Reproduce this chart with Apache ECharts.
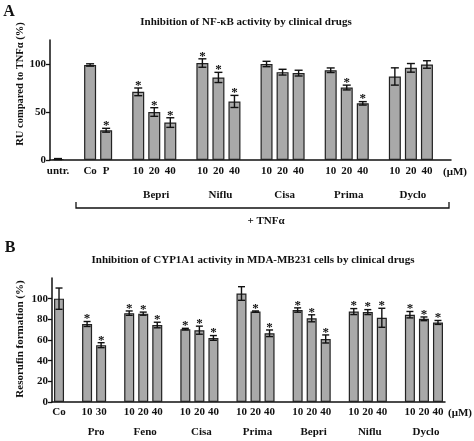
<!DOCTYPE html>
<html>
<head>
<meta charset="utf-8">
<script src="https://cdn.jsdelivr.net/npm/echarts@6/dist/echarts.min.js"></script>
<style>
html, body { margin: 0; padding: 0; background: #fff; }
#main { width: 474px; height: 441px; }
</style>
</head>
<body>
<div id="main"></div>
<script>
var FONT = '"Liberation Serif", "DejaVu Serif", serif';

// panel A - NF-kB activity (RU % of TNFa)
var groupsA = ['', '', 'Bepri', 'Niflu', 'Cisa', 'Prima', 'Dyclo'];
var dosesA = [['untr.'], ['Co', 'P'], ['10', '20', '40'], ['10', '20', '40'], ['10', '20', '40'], ['10', '20', '40'], ['10', '20', '40']];
var meansA = [[1], [99, 31], [71, 50, 39], [101, 86, 61], [100, 91.5, 90.5], [93.5, 75.5, 59], [87, 96, 99.5]];
var errsA = [[0.5], [1.2, 2], [4, 4.5, 5], [4.4, 5.3, 6.3], [2.8, 3, 3], [2.4, 2.5, 1.8], [9, 4.5, 3.9]];
var starsA = [[0], [0, 1], [1, 1, 1], [1, 1, 1], [0, 0, 0], [0, 1, 1], [0, 0, 0]];
var ticksA = [0, 50, 100];

// panel B - CYP1A1 activity (resorufin formation %)
var groupsB = ['', 'Pro', 'Feno', 'Cisa', 'Prima', 'Bepri', 'Niflu', 'Dyclo'];
var dosesB = [['Co'], ['10', '30'], ['10', '20', '40'], ['10', '20', '40'], ['10', '20', '40'], ['10', '20', '40'], ['10', '20', '40'], ['10', '20', '40']];
var meansB = [[100], [75.5, 55], [86, 85.5, 74.5], [70.5, 69.5, 62], [105, 87.5, 66.5], [89, 81, 61], [87.5, 87, 81.5], [84.5, 80.5, 77]];
var errsB = [[10.3], [2.4, 2.4], [2.1, 1.5, 2.7], [0.8, 3.9, 2.3], [6.6, 0.6, 3.2], [2.1, 3.4, 3.9], [2.9, 2.4, 9.2], [3.1, 1.8, 1.9]];
var starsB = [[0], [1, 1], [1, 1, 1], [1, 1, 1], [0, 1, 1], [1, 1, 1], [1, 1, 1], [1, 1, 1]];
var ticksB = [0, 20, 40, 60, 80, 100];

// one empty slot between groups
function build(doses, means, errs, stars, trailing) {
	var cats = [], bars = [], ebars = [], spans = [];
	for (var g = 0; g < doses.length; g++) {
		if (g > 0) { cats.push(''); bars.push(null); }
		var first = cats.length;
		for (var i = 0; i < doses[g].length; i++) {
			cats.push(doses[g][i]);
			bars.push(means[g][i]);
			ebars.push([cats.length - 1, means[g][i], errs[g][i], stars[g][i]]);
		}
		spans.push([first, cats.length - 1]);
	}
	if (trailing) { cats.push(''); bars.push(null); }
	return { cats: cats, bars: bars, ebars: ebars, spans: spans };
}

var A = build(dosesA, meansA, errsA, starsA, true);
var B = build(dosesB, meansB, errsB, starsB, false);

function errRenderer(cap) {
	return function (params, api) {
		var x = api.value(0), m = api.value(1), e = api.value(2), s = api.value(3);
		var top = api.coord([x, m + e]);
		var bot = api.coord([x, m - e]);
		var st = { stroke: '#111', lineWidth: 1.4 };
		var kids = [
			{ type: 'line', shape: { x1: top[0], y1: top[1], x2: bot[0], y2: bot[1] }, style: st },
			{ type: 'line', shape: { x1: top[0] - cap, y1: top[1], x2: top[0] + cap, y2: top[1] }, style: st },
			{ type: 'line', shape: { x1: bot[0] - cap, y1: bot[1], x2: bot[0] + cap, y2: bot[1] }, style: st }
		];
		if (s) {
			kids.push({
				type: 'text', x: top[0], y: top[1] + 4,
				style: { text: '*', font: 'bold 13px ' + FONT, align: 'center', verticalAlign: 'bottom', fill: '#111' }
			});
		}
		return { type: 'group', children: kids };
	};
}

var axisLine = { lineStyle: { color: '#111', width: 1.5 } };
var labelStyle = { color: '#111', fontFamily: FONT, fontWeight: 'bold', fontSize: 11 };

var option = {
	animation: false,
	title: [
		{ text: 'Inhibition of NF-\u03baB activity by clinical drugs', left: 241, top: 12, textAlign: 'center',
			textStyle: { fontFamily: FONT, fontWeight: 'bold', fontSize: 11, color: '#111' } },
		{ text: 'Inhibition of CYP1A1 activity in MDA-MB231 cells by clinical drugs', left: 248, top: 250, textAlign: 'center',
			textStyle: { fontFamily: FONT, fontWeight: 'bold', fontSize: 11, color: '#111' } }
	],
	grid: [
		{ left: 50, top: 40, width: 401, height: 120 },
		{ left: 52, top: 278, width: 393, height: 124 }
	],
	xAxis: [
		{ type: 'category', gridIndex: 0, data: A.cats, axisLine: axisLine,
			axisTick: { alignWithLabel: true, interval: 0, length: 3, lineStyle: { color: '#111' } },
			axisLabel: Object.assign({ interval: 0, margin: 6 }, labelStyle) },
		{ type: 'category', gridIndex: 1, data: B.cats, axisLine: axisLine,
			axisTick: { alignWithLabel: true, interval: 0, length: 3, lineStyle: { color: '#111' } },
			axisLabel: Object.assign({ interval: 0, margin: 5 }, labelStyle) }
	],
	yAxis: [
		{ type: 'value', gridIndex: 0, min: 0, max: 125, splitLine: { show: false },
			axisLine: Object.assign({ show: true }, axisLine),
			axisTick: { show: true, length: 4, customValues: ticksA, lineStyle: { color: '#111', width: 1.3 } },
			axisLabel: Object.assign({ customValues: ticksA, margin: 4 }, labelStyle) },
		{ type: 'value', gridIndex: 1, min: 0, max: 120, splitLine: { show: false },
			axisLine: Object.assign({ show: true }, axisLine),
			axisTick: { show: true, length: 4, customValues: ticksB, lineStyle: { color: '#111', width: 1.3 } },
			axisLabel: Object.assign({ customValues: ticksB, margin: 4 }, labelStyle) }
	],
	series: [
		{ type: 'bar', xAxisIndex: 0, yAxisIndex: 0, data: A.bars, barWidth: 12,
			itemStyle: { color: '#a9a9a9', borderColor: '#222', borderWidth: 1.2 } },
		{ type: 'custom', xAxisIndex: 0, yAxisIndex: 0, data: A.ebars, renderItem: errRenderer(4), z: 5 },
		{ type: 'bar', xAxisIndex: 1, yAxisIndex: 1, data: B.bars, barWidth: 10,
			itemStyle: { color: '#a9a9a9', borderColor: '#222', borderWidth: 1.2 } },
		{ type: 'custom', xAxisIndex: 1, yAxisIndex: 1, data: B.ebars, renderItem: errRenderer(3.5), z: 5 }
	]
};

var chart = echarts.init(document.getElementById('main'));
chart.setOption(option);

// group names, bracket, axis titles and other annotations
var txt = function (x, y, s, size, align, rot) {
	return { type: 'text', x: x, y: y, rotation: rot || 0,
		style: { text: s, font: 'bold ' + (size || 11) + 'px ' + FONT,
			align: align || 'center', verticalAlign: 'middle', fill: '#111' } };
};
var gfx = [
	txt(9, 12, 'A', 16),
	txt(10, 248, 'B', 16),
	txt(20, 84, 'RU compared to TNF\u03b1 (%)', 10.5, 'center', Math.PI / 2),
	txt(20, 339, 'Resorufin formation (%)', 11, 'center', Math.PI / 2),
	txt(443, 172, '(\u03bcM)', 11, 'left'),
	txt(448, 413, '(\u03bcM)', 11, 'left'),
	txt(266, 221, '+ TNF\u03b1', 11),
	{ type: 'polyline', shape: { points: [[76, 202], [76, 208], [449, 208], [449, 202]] },
		style: { stroke: '#111', lineWidth: 1.3, fill: null } }
];
function groupLabels(names, spans, axis, y) {
	for (var g = 0; g < names.length; g++) {
		if (!names[g]) continue;
		var x0 = chart.convertToPixel({ xAxisIndex: axis }, spans[g][0]);
		var x1 = chart.convertToPixel({ xAxisIndex: axis }, spans[g][1]);
		gfx.push(txt((x0 + x1) / 2 + 2, y, names[g], 11));
	}
}
groupLabels(groupsA, A.spans, 0, 195);
groupLabels(groupsB, B.spans, 1, 432);
chart.setOption({ graphic: gfx });
</script>
</body>
</html>
